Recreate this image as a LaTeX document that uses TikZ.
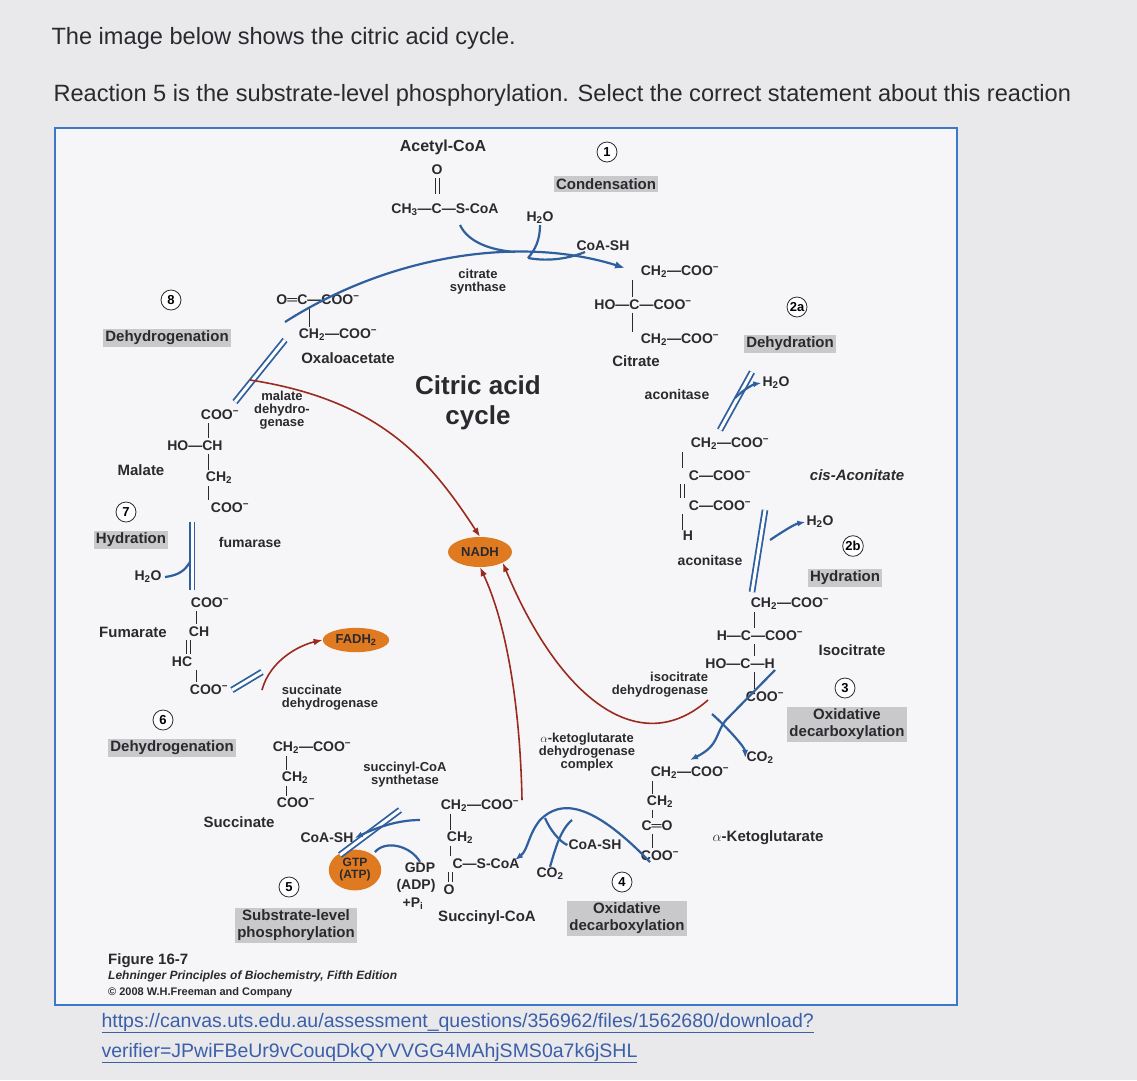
\documentclass[tikz,border=0pt]{standalone}
\usepackage{fontspec}
\setmainfont{Liberation Sans}
\usetikzlibrary{arrows.meta,shapes.geometric}
\definecolor{bg}{HTML}{E9E9EC}
\definecolor{fig}{HTML}{F6F6F8}
\definecolor{fblue}{HTML}{3A78C8}
\definecolor{arc}{HTML}{2F5F9E}
\definecolor{rbrown}{HTML}{9A2A1E}
\definecolor{orng}{HTML}{E07A20}
\definecolor{gbox}{HTML}{C9C9CC}
\definecolor{txt}{HTML}{2A2A2E}
\definecolor{link}{HTML}{3B5FA8}
\newcommand{\tsb}[1]{\textsubscript{#1}}
\newcommand{\mng}{\textsuperscript{−}}
\begin{document}
\begin{tikzpicture}[x=1pt,y=-1pt,
  lb/.style={font=\fontsize{14}{15}\selectfont\bfseries,text=txt,inner sep=1pt},
  lbl/.style={lb,align=center,font=\fontsize{13}{13}\selectfont\bfseries},
  gb/.style={lb,fill=gbox,inner sep=2pt,align=center,font=\fontsize{15}{17}\selectfont\bfseries},
  num/.style={circle,draw=txt,thick,fill=white,inner sep=1pt,minimum size=20pt,font=\fontsize{13}{13}\selectfont\bfseries},
  og/.style={ellipse,fill=orng,inner sep=3pt,font=\fontsize{13}{13}\selectfont\bfseries,text=txt},
  bl/.style={draw=arc,line width=2.2pt},
  rb/.style={draw=rbrown,line width=1.6pt},
  rev/.style={draw=arc,line width=1.8pt,double distance=3pt}]
\useasboundingbox (0,0) rectangle (1137,1080);
\fill[bg] (0,0) rectangle (1137,1080);
\node[anchor=west,font=\fontsize{23.6}{24}\selectfont,text=txt] (q1) at (48,38) {The image below shows the citric acid cycle.};
\node[anchor=west,font=\fontsize{23.6}{24}\selectfont,text=txt] (q2) at (50,95) {Reaction 5 is the substrate-level phosphorylation. Select the correct statement about this reaction};
\draw[fblue,line width=1.5pt,fill=fig] (55,128) rectangle (957,1005);
% top
\node[lb,font=\fontsize{16}{16}\selectfont\bfseries] (acoa) at (443,147) {Acetyl-CoA};
\node[lb] (ao) at (437,170) {O};
\draw[txt,thick] (435,178) -- (435,194) (439,178) -- (439,194);
\node[lb] (acs) at (445,210) {CH\tsb{3}—C—S-CoA};
\node[lb] (h2o1) at (540,218) {H\tsb{2}O};
\node[num] (n1) at (607,152) {1};
\node[gb] (cond) at (606,184) {Condensation};
\node[lb] (coash1) at (603,246) {CoA-SH};
\node[lbl] (cs) at (478,282) {citrate\\synthase};
\node[lb] (c1) at (680,272) {CH\tsb{2}—COO\mng};
\node[lb] (c2) at (643,305) {HO—C—COO\mng};
\node[lb] (c3) at (680,340) {CH\tsb{2}—COO\mng};
\node[lb,font=\fontsize{15}{15}\selectfont\bfseries] (citr) at (636,361) {Citrate};
\draw[txt,thick] (632,280)--(632,297) (632,313)--(632,332);
\node[num] (n2a) at (797,307) {2a};
\node[gb] (dehy) at (790,344) {Dehydration};
\node[lb] (acon1) at (677,394) {aconitase};
\node[lb] (h2o2) at (776,383) {H\tsb{2}O};
% oxaloacetate
\node[lb] (o1) at (318,300) {O═C—COO\mng};
\node[lb] (o2) at (338,335) {CH\tsb{2}—COO\mng};
\node[lb,font=\fontsize{15}{15}\selectfont\bfseries] (oxa) at (348,358) {Oxaloacetate};
\draw[txt,thick] (309,308)--(309,327);
\node[num] (n8) at (171,300) {8};
\node[gb] (dh8) at (167,338) {Dehydrogenation};
\node[lbl] (mdh) at (282,410) {malate\\dehydro-\\genase};
\node[lb,font=\fontsize{26}{30}\selectfont\bfseries,align=center] (cac) at (478,403) {Citric acid\\cycle};
% malate
\node[lb] (m1) at (220,415) {COO\mng};
\node[lb] (m2) at (195,446) {HO—CH};
\node[lb,font=\fontsize{15}{15}\selectfont\bfseries] (mal) at (141,470) {Malate};
\node[lb] (m3) at (219,478) {CH\tsb{2}};
\node[lb] (m4) at (230,508) {COO\mng};
\draw[txt,thick] (208,423)--(208,438) (208,454)--(208,470) (208,486)--(208,500);
\node[num] (n7) at (126,512) {7};
\node[gb] (hy7) at (131,540) {Hydration};
\node[lb] (fum) at (250,542) {fumarase};
\node[lb] (h2o3) at (148,577) {H\tsb{2}O};
\node[og,minimum width=64pt,minimum height=30pt] (nadh) at (480,552) {NADH};
% cis-aconitate
\node[lb] (a1) at (730,444) {CH\tsb{2}—COO\mng};
\node[lb] (a2) at (720,476) {C—COO\mng};
\node[lb] (a3) at (720,506) {C—COO\mng};
\node[lb] (a4) at (688,536) {H};
\draw[txt,thick] (682,452)--(682,468) (680,484)--(680,498) (684,484)--(684,498) (682,514)--(682,530);
\node[lb,font=\fontsize{15}{15}\selectfont\bfseries\itshape] (cisa) at (857,475) {cis-Aconitate};
\node[lb] (acon2) at (710,560) {aconitase};
\node[lb] (h2o4) at (820,522) {H\tsb{2}O};
\node[num] (n2b) at (853,546) {2b};
\node[gb] (hy2b) at (845,578) {Hydration};
% fumarate
\node[lb] (f1) at (210,603) {COO\mng};
\node[lb,font=\fontsize{15}{15}\selectfont\bfseries] (fuma) at (133,632) {Fumarate};
\node[lb] (f2) at (199,632) {CH};
\node[lb] (f3) at (182,662) {HC};
\node[lb] (f4) at (209,690) {COO\mng};
\draw[txt,thick] (196,611)--(196,624) (186,640)--(186,654) (190,640)--(190,654) (196,670)--(196,682);
\node[og,minimum width=56pt,minimum height=24pt] (fadh) at (356,640) {FADH\tsb{2}};
\node[lbl,align=left] (sdh) at (330,698) {succinate\\dehydrogenase};
\node[num] (n6) at (163,720) {6};
\node[gb] (dh6) at (172,748) {Dehydrogenation};
% isocitrate
\node[lb] (i1) at (790,604) {CH\tsb{2}—COO\mng};
\node[lb] (i2) at (760,636) {H—C—COO\mng};
\node[lb,font=\fontsize{15}{15}\selectfont\bfseries] (isoc) at (852,650) {Isocitrate};
\node[lb] (i3) at (740,664) {HO—C—H};
\node[lbl,align=right] (idh) at (660,685) {isocitrate\\dehydrogenase};
\node[lb] (i4) at (765,697) {COO\mng};
\draw[txt,thick] (754,612)--(754,628) (754,644)--(754,656) (754,672)--(754,689);
\node[num] (n3) at (845,688) {3};
\node[gb] (od3) at (847,724) {Oxidative\\decarboxylation};
\node[lb] (co2a) at (760,758) {CO\tsb{2}};
% succinate
\node[lb] (s1) at (312,748) {CH\tsb{2}—COO\mng};
\node[lb] (s2) at (295,778) {CH\tsb{2}};
\node[lb] (s3) at (296,803) {COO\mng};
\draw[txt,thick] (286,756)--(286,770) (286,786)--(286,796);
\node[lb,font=\fontsize{15}{15}\selectfont\bfseries] (succ) at (239,822) {Succinate};
\node[lbl] (scs) at (405,775) {succinyl-CoA\\synthetase};
% akg
\node[lbl] (akgdh) at (587,752) {$\alpha$-ketoglutarate\\dehydrogenase\\complex};
\node[lb] (k1) at (690,773) {CH\tsb{2}—COO\mng};
\node[lb] (k2) at (660,802) {CH\tsb{2}};
\node[lb] (k3) at (657,826) {C═O};
\node[lb] (k4) at (660,856) {COO\mng};
\draw[txt,thick] (652,781)--(652,794) (652,810)--(652,818) (652,834)--(652,848);
\node[lb,font=\fontsize{15}{15}\selectfont\bfseries] (akg) at (768,838) {$\alpha$-Ketoglutarate};
% succinyl-CoA
\node[lb] (y1) at (480,806) {CH\tsb{2}—COO\mng};
\node[lb] (y2) at (460,838) {CH\tsb{2}};
\node[lb] (y3) at (486,864) {C—S-CoA};
\node[lb] (gdp) at (420,868) {GDP};
\node[lb] (adp) at (416,886) {(ADP)};
\node[lb] (y4) at (449,890) {O};
\node[lb] (pi) at (413,904) {+P\tsb{i}};
\draw[txt,thick] (450,814)--(450,830) (450,846)--(450,856) (448,872)--(448,882) (452,872)--(452,882);
\node[lb,font=\fontsize{15}{15}\selectfont\bfseries] (sucoa) at (487,918) {Succinyl-CoA};
\node[lb] (coash2) at (327,838) {CoA-SH};
\node[og,align=center,font=\fontsize{12}{12}\selectfont\bfseries,minimum width=46pt,minimum height=40pt] (gtp) at (355,870) {GTP\\(ATP)};
\node[num] (n5) at (289,887) {5};
\node[gb] (slp) at (296,925) {Substrate-level\\phosphorylation};
\node[lb] (coash3) at (595,845) {CoA-SH};
\node[lb] (co2b) at (550,874) {CO\tsb{2}};
\node[num] (n4) at (622,882) {4};
\node[gb] (od4) at (627,918) {Oxidative\\decarboxylation};
% credits
\node[anchor=west,lb,font=\fontsize{15}{15}\selectfont\bfseries] (fig) at (107,961) {Figure 16-7};
\node[anchor=west,lb,font=\fontsize{12}{12}\selectfont\bfseries\itshape] (leh) at (107,976) {Lehninger Principles of Biochemistry, Fifth Edition};
\node[anchor=west,lb,font=\fontsize{11}{11}\selectfont\bfseries] (cpy) at (107,993) {© 2008 W.H.Freeman and Company};
\node[anchor=west,font=\fontsize{19.5}{20}\selectfont,text=link] (u1) at (98,1023) {\underline{https://canvas.uts.edu.au/assessment\_questions/356962/files/1562680/download?}};
\node[anchor=west,font=\fontsize{19.5}{20}\selectfont,text=link] (u2) at (98,1053) {\underline{verifier=JPwiFBeUr9vCouqDkQYVVGG4MAhjSMS0a7k6jSHL}};
% arrows: blue
\coordinate (oxs) at (285,322);
\coordinate (cit) at (625,268);
\draw[bl,-{Latex[length=10pt]}] (oxs) .. controls (390,255) and (520,235) .. (cit);
\draw[bl] (460,225) .. controls (468,242) and (490,250) .. (515,252);
\draw[bl] (h2o1.south) .. controls (540,240) and (535,250) .. (528,258);
\draw[bl] (528,258) .. controls (550,262) and (570,258) .. (585,252);
\draw[rev] (285,340) -- (235,402);
\draw[rev] (192,522) -- (192,590);
\draw[bl] (165,577) .. controls (180,575) and (185,570) .. (190,562);
\draw[rev] (232,690) -- (262,672);
\draw[rev] (752,372) -- (720,430);
\draw[bl,-{Latex[length=8pt]}] (735,398) .. controls (745,388) and (755,384) .. (h2o2.west);
\draw[rev] (765,510) -- (752,592);
\draw[bl,-{Latex[length=8pt]}] (770,540) .. controls (785,530) and (795,524) .. (h2o4.west);
\draw[bl,-{Latex[length=8pt]}] (775,670) -- (726,720) .. controls (715,733) and (720,745) .. (690,760);
\draw[bl,-{Latex[length=8pt]}] (712,714) .. controls (730,730) and (745,748) .. (co2a.west);
\draw[bl,-{Latex[length=8pt]}] (650,862) .. controls (590,800) and (560,800) .. (540,820) .. controls (528,835) and (528,850) .. (515,860);
\draw[bl] (572,820) .. controls (560,830) and (555,850) .. (co2b.north);
\draw[bl] (coash3.west) .. controls (560,842) and (550,830) .. (545,818);
\draw[rev] (400,810) .. controls (380,825) and (360,840) .. (340,855);
\draw[bl,-{Latex[length=8pt]}] (420,820) .. controls (400,820) and (380,826) .. (coash2.east);
\draw[bl] (gdp.north) .. controls (410,845) and (385,840) .. (375,852);
% red-brown
\draw[rb,-{Latex[length=9pt]}] (250,380) .. controls (380,400) and (430,460) .. (nadh.north);
\draw[rb,-{Latex[length=9pt]}] (708,700) .. controls (640,760) and (560,700) .. (nadh.south east);
\draw[rb,-{Latex[length=9pt]}] (522,800) .. controls (520,700) and (505,620) .. (nadh.south);
\draw[rb,-{Latex[length=9pt]}] (262,690) .. controls (270,660) and (300,645) .. (fadh.west);
\end{tikzpicture}
\end{document}
